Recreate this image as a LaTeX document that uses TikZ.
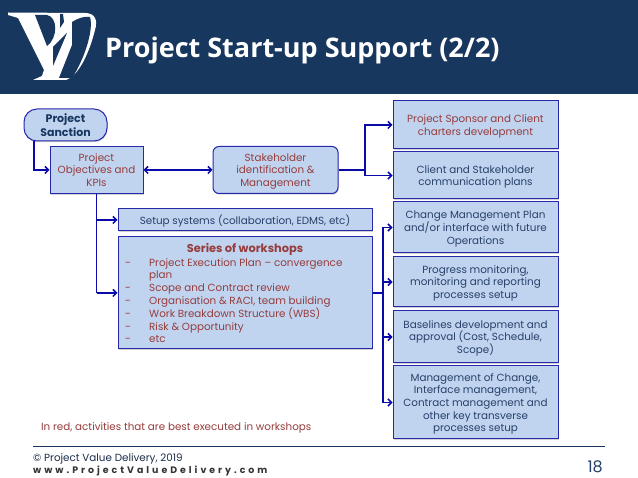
\documentclass[tikz,border=0pt]{standalone}
\usepackage{fontspec}
\setmainfont{Poppins}
\newfontfamily\titlefont{Open Sans}
\usetikzlibrary{arrows.meta,shadows}
\definecolor{hdr}{RGB}{23,55,94}
\definecolor{boxfill}{RGB}{192,212,240}
\definecolor{boxline}{RGB}{40,40,170}
\definecolor{conn}{RGB}{10,10,170}
\definecolor{redtxt}{RGB}{150,60,60}
\definecolor{bluetxt}{RGB}{40,65,105}
\newcommand{\dashitem}[1]{\makebox[24pt][l]{-}#1}
\newcommand{\contline}[1]{\hspace*{24pt}#1}
\tikzset{
 x=1pt,y=-1pt,
 boxbase/.style={draw=boxline,fill=boxfill,line width=1pt,align=center,inner sep=0pt,
   font=\fontsize{10.35}{12.7}\selectfont,text=bluetxt,text depth=-1pt,
   drop shadow={shadow xshift=0.6pt,shadow yshift=-1.2pt,opacity=.35}},
 redbox/.style={boxbase,text=redtxt},
 conn/.style={draw=conn,line width=1.7pt},
 arr/.style={conn,-{Straight Barb[length=3.5pt,width=7pt,line width=1.5pt]}},
 arrb/.style={conn,{Straight Barb[length=3.5pt,width=7pt,line width=1.5pt]}-{Straight Barb[length=3.5pt,width=7pt,line width=1.5pt]}},
}
\begin{document}
\begin{tikzpicture}
\useasboundingbox (0,0) rectangle (638,478);
\fill[white] (0,0) rectangle (638,478);
\fill[hdr] (0,0) rectangle (638,94);
% logo
\fill[white] (8,12.5) -- (85,13) .. controls (95,13) and (98,20) .. (95,30) .. controls (90,50) and (80,75) .. (66,80) -- (33,80) -- (42,76) -- (44,70) -- (18,18) -- (8,15) -- cycle;
\fill[hdr] (35,15) -- (47,15) .. controls (58,17) and (58,38) .. (47,46) -- cycle;
\fill[hdr] (72,22) .. controls (78,18) and (85,16) .. (90,17) .. controls (94,30) and (84,60) .. (72,78) -- (59,78) -- (72,45) -- cycle;
\fill[hdr] (53,47) -- (67,33) -- (53,66) -- cycle;
\fill[hdr] (60,14) -- (63,14) -- (64,22) -- (60,28) -- cycle;
\node[font=\titlefont\bfseries\fontsize{27}{30}\selectfont,text=white,anchor=west,inner sep=0pt] (title) at (105,50) {Project Start-up Support (2/2)};
% boxes
\node[redbox,text=hdr,font=\bfseries\fontsize{11}{14.5}\selectfont,rounded corners=13pt,minimum width=83pt,minimum height=32pt] (sanction) at (65.5,125) {Project\\Sanction};
\node[redbox,minimum width=93pt,minimum height=47pt] (obj) at (96.5,170) {Project\\Objectives and\\KPIs};
\node[redbox,rounded corners=6pt,minimum width=125pt,minimum height=47pt] (stake) at (275.5,170) {Stakeholder\\identification \&\\Management};
\node[redbox,minimum width=165pt,minimum height=48pt] (spons) at (475.5,125) {Project Sponsor and Client\\charters development};
\node[boxbase,minimum width=165pt,minimum height=47pt] (comm) at (475.5,175.5) {Client and Stakeholder\\communication plans};
\node[boxbase,minimum width=165pt,minimum height=51pt] (chg) at (475.5,227.5) {Change Management Plan\\and/or interface with future\\Operations};
\node[boxbase,minimum width=165pt,minimum height=50pt] (prog) at (475.5,282) {Progress monitoring,\\monitoring and reporting\\processes setup};
\node[boxbase,minimum width=165pt,minimum height=52pt] (base) at (475.5,337) {Baselines development and\\approval (Cost, Schedule,\\Scope)};
\node[boxbase,minimum width=165pt,minimum height=73pt] (moc) at (475.5,402.5) {Management of Change,\\Interface management,\\Contract management and\\other key transverse\\processes setup};
\node[boxbase,minimum width=254pt,minimum height=22pt] (setup) at (245,220) {Setup systems (collaboration, EDMS, etc)};
\node[redbox,minimum width=254pt,minimum height=112pt] (series) at (245,293) {};
\node[text=redtxt,font=\bfseries\fontsize{11.4}{13}\selectfont,inner sep=0pt] (sertitle) at (245,249) {Series of workshops};
\node[text=redtxt,font=\fontsize{10.35}{12.8}\selectfont,anchor=north west,inner sep=0pt,align=left] (serlist) at (125,258) {\dashitem{Project Execution Plan – convergence}\\\contline{plan}\\\dashitem{Scope and Contract review}\\\dashitem{Organisation \& RACI, team building}\\\dashitem{Work Breakdown Structure (WBS)}\\\dashitem{Risk \& Opportunity}\\\dashitem{etc}};
\node[text=redtxt,font=\fontsize{10.35}{12}\selectfont,anchor=west,inner sep=0pt] (note) at (41,428) {In red, activities that are best executed in workshops};
% connectors
\coordinate (sstart) at (34,141);
\draw[arr] (sstart) |- (obj.west);
\draw[arrb] (obj.east) -- (stake.west);
\draw[conn] (obj.south) -- (96.5,293);
\draw[arr] (96.5,220) -- (setup.west);
\draw[arr] (96.5,293) -- (series.west);
\coordinate (sj) at (365,170);
\draw[conn] (stake.east) -- (sj);
\draw[arr] (sj) |- (spons.west);
\draw[arr] (sj) |- (comm.west);
\coordinate (wj) at (383,293);
\draw[conn] (series.east) -- (wj);
\draw[arr] (wj) |- (chg.west);
\draw[arr] (wj) |- (prog.west);
\draw[arr] (wj) |- (base.west);
\draw[arr] (wj) |- (moc.west);
% footer
\coordinate (fl) at (33,447); \coordinate (fr) at (605,447);
\draw[hdr,line width=1pt] (fl) -- (fr);
\node[text=bluetxt!70!black,font=\fontsize{10.35}{12}\selectfont,anchor=west,inner sep=0pt] (copy) at (33,458.5) {© Project Value Delivery, 2019};
\node[text=black!80,font=\bfseries\fontsize{9.4}{12}\selectfont,anchor=west,inner sep=0pt] (www) at (33,471) {w\kern3pt w\kern3pt w\kern3pt .\kern3pt P\kern3pt r\kern3pt o\kern3pt j\kern3pt e\kern3pt c\kern3pt t\kern3pt V\kern3pt a\kern3pt l\kern3pt u\kern3pt e\kern3pt D\kern3pt e\kern3pt l\kern3pt i\kern3pt v\kern3pt e\kern3pt r\kern3pt y\kern3pt .\kern3pt c\kern3pt o\kern3pt m};
\node[text=bluetxt,font=\fontsize{16}{18}\selectfont,anchor=east,inner sep=0pt] (pg) at (603,467) {18};
\end{tikzpicture}
\end{document}
